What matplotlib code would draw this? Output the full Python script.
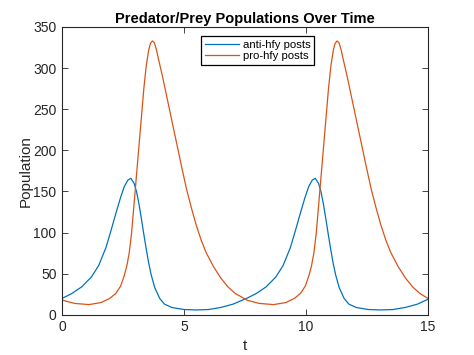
import matplotlib
matplotlib.use("Agg")
import matplotlib.pyplot as plt

plt.rcParams['font.family'] = ['Liberation Sans', 'DejaVu Sans']

# values
t_anti = [0, 0.4, 0.8, 1.2, 1.5, 1.8, 2.0, 2.2, 2.4, 2.55, 2.7, 2.82, 2.95, 3.05,
          3.15, 3.25, 3.35, 3.45, 3.55, 3.65, 3.8, 4.0, 4.2, 4.5, 5.0, 5.5, 6.0,
          6.5, 7.0,
          7.56, 7.96, 8.36, 8.76, 9.06, 9.36, 9.56, 9.76, 9.96, 10.11, 10.26, 10.38,
          10.51, 10.61, 10.71, 10.81, 10.91, 11.01, 11.11, 11.21, 11.36, 11.56,
          11.76, 12.06, 12.56, 13.06, 13.56, 14.06, 14.56, 15.0]
anti_hfy = [20, 26, 34, 46, 60, 82, 102, 123, 143, 156, 164, 166, 160, 150,
            135, 117, 98, 80, 63, 49, 33, 20, 13, 9, 6.5, 6, 6.5,
            9, 13,
            20, 26, 34, 46, 60, 82, 102, 123, 143, 156, 164, 166,
            160, 150, 135, 117, 98, 80, 63, 49, 33, 20,
            13, 9, 6.5, 6, 6.5, 9, 13, 19]

t_pro = [0, 0.5, 1.1, 1.6, 1.95, 2.2, 2.4, 2.55, 2.65, 2.75, 2.85, 2.95, 3.05, 3.15,
         3.25, 3.35, 3.45, 3.55, 3.62, 3.7, 3.78, 3.87, 3.95, 4.1, 4.3, 4.5, 4.7, 4.9,
         5.1, 5.3, 5.5, 5.7, 5.9, 6.2, 6.5, 6.8, 7.1, 7.4,
         7.57, 8.07, 8.67, 9.17, 9.52, 9.77, 9.97, 10.12, 10.22, 10.32, 10.42, 10.52,
         10.62, 10.72, 10.82, 10.92, 11.02, 11.12, 11.19, 11.27, 11.35, 11.44, 11.52,
         11.67, 11.87, 12.07, 12.27, 12.47, 12.67, 12.87, 13.07, 13.27, 13.47, 13.77,
         14.07, 14.37, 14.67, 15.0]
pro_hfy = [18, 14, 12.5, 15, 20, 26, 35, 48, 59, 75, 100, 135, 170, 205,
           240, 275, 303, 322, 330, 333, 331, 322, 311, 292, 264, 236, 208, 180,
           153, 130, 109, 91, 76, 59, 45, 34, 26, 21,
           18, 14, 12.5, 15, 20, 26, 35, 48, 59, 75, 100, 135,
           170, 205, 240, 275, 303, 322, 330, 333, 331, 322, 311,
           292, 264, 236, 208, 180, 153, 130, 109, 91, 76, 59,
           45, 34, 26, 20]

xticks = [0, 5, 10, 15]
yticks = [0, 50, 100, 150, 200, 250, 300, 350]

axcol = '#262626'

fig = plt.figure(figsize=(4.74, 3.55), dpi=100)
ax = fig.add_axes([0.131, 0.113, 0.772, 0.811])

ax.plot(t_anti, anti_hfy, color='#0072BD', lw=0.9, label='anti-hfy posts')
ax.plot(t_pro, pro_hfy, color='#D95319', lw=0.9, label='pro-hfy posts')

ax.set_xlim(0, 15)
ax.set_ylim(0, 350)
ax.set_xticks(xticks)
ax.set_yticks(yticks)
ax.tick_params(direction='in', length=4, width=0.6, top=True, right=True,
               labelsize=10, colors=axcol, pad=4)
for s in ax.spines.values():
    s.set_color(axcol)
    s.set_linewidth(0.8)

ax.set_title('Predator/Prey Populations Over Time', fontsize=10.5,
             fontweight='bold', pad=3)
ax.set_xlabel('t', fontsize=11, color=axcol, labelpad=3)
ax.set_ylabel('Population', fontsize=11, color=axcol, labelpad=0)

leg = ax.legend(loc='upper left', bbox_to_anchor=(0.38, 0.97), fontsize=8.2,
                fancybox=False, framealpha=1, edgecolor='black',
                handlelength=3.0, handletextpad=0.3, borderpad=0.35,
                labelspacing=0.1, borderaxespad=0)
leg.get_frame().set_linewidth(0.9)

fig.savefig('out.png', dpi=100)
